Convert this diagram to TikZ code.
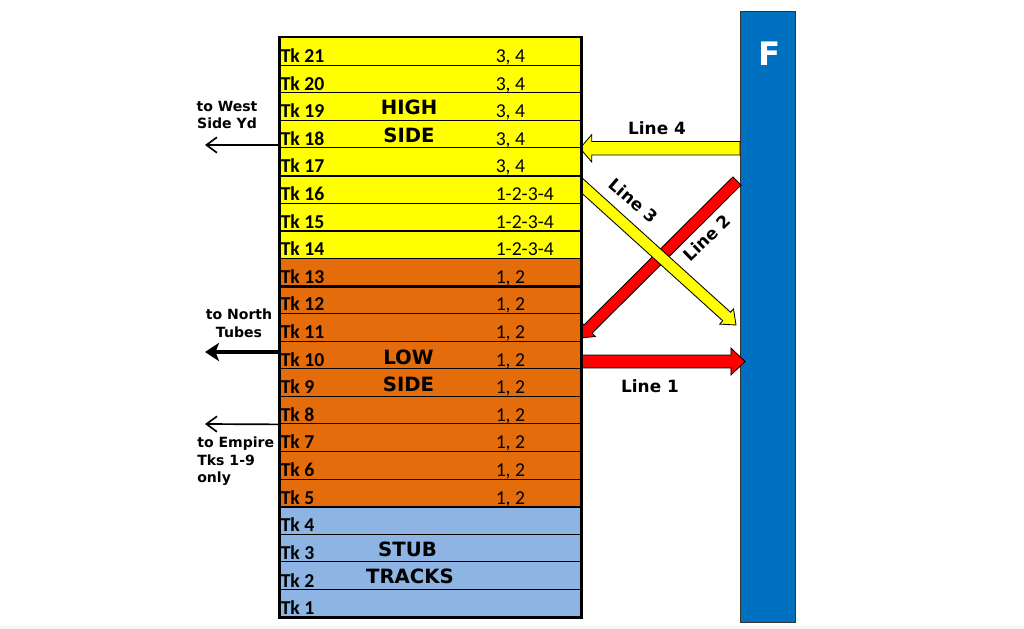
\documentclass[tikz,border=0pt]{standalone}
\usepackage{fontspec}
\usepackage[HTML]{xcolor}
\usepackage{tikz}
\usetikzlibrary{positioning, arrows.meta, calc}

\newfontfamily\trackfont{Carlito}
\newfontfamily\blockfont{DejaVu Sans}

\definecolor{hiyellow}{HTML}{FFFF00}
\definecolor{loworange}{HTML}{E46C0A}
\definecolor{stubblue}{HTML}{8DB4E2}
\definecolor{barblue}{HTML}{0070C0}
\definecolor{linered}{HTML}{FF0000}

% fat outlined arrow: fill, from, to, shaft half width, head half width, head length
\newcommand{\fatarrow}[6]{%
\coordinate (hb) at ($(#3)!#6!(#2)$);
\draw[fill=#1, line width=0.6pt, line join=miter]
  ($(#2)!#4!90:(#3)$) -- ($(hb)!#4!90:(#3)$) -- ($(hb)!#5!90:(#3)$) -- (#3)
  -- ($(hb)!#5!-90:(#3)$) -- ($(hb)!#4!-90:(#3)$) -- ($(#2)!#4!-90:(#3)$) -- cycle;}

\begin{document}
\begin{tikzpicture}[x=0.025cm, y=-0.025cm,
  trackrow/.style={draw, line width=0.7pt, inner sep=0, minimum width=7.525cm, minimum height=0.69cm},
  tklabel/.style={anchor=base west, inner sep=0, font=\trackfont\bfseries\fontsize{14}{16}\selectfont},
  linenum/.style={anchor=base west, inner sep=0, font=\trackfont\fontsize{14}{16}\selectfont},
  sidelabel/.style={inner sep=0, font=\blockfont\bfseries\fontsize{14}{16}\selectfont},
  linelabel/.style={inner sep=0, font=\blockfont\bfseries\fontsize{12}{14}\selectfont},
  leftlabel/.style={inner sep=0, font=\blockfont\bfseries\fontsize{10}{12.6}\selectfont},
  groupline/.style={line width=1.8pt},
  thinarrow/.style={line width=1.2pt, -{Straight Barb[length=7.5pt, width=11pt]}},
  thickarrow/.style={line width=3.4pt, -{Stealth[length=10pt, width=13pt, inset=2.5pt]}}]
\useasboundingbox (0,0) rectangle (1024,629);
\fill[gray!7] (0,626) rectangle (1024,629);

% the F bar
\node[draw=black!80, line width=0.6pt, fill=barblue, inner sep=0, minimum width=1.375cm, minimum height=15.265cm] (fbar) at (767.5,317) {};
\node[font=\blockfont\bfseries\fontsize{23}{26}\selectfont, text=white, inner sep=0] (flab) at (769.5,53.3) {F};

% big arrows
\coordinate (l4a) at (740,148.3);
\coordinate (l4b) at (580,148.3);
\coordinate (l1a) at (581,361.5);
\coordinate (l1b) at (745,361.5);
\coordinate (l3a) at (578,182);
\coordinate (l3b) at (736,325);
\coordinate (l2a) at (737,181);
\coordinate (l2b) at (579,338);
\fatarrow{hiyellow}{l4a}{l4b}{4.8pt}{9.7pt}{8.3pt}
\fatarrow{linered}{l1a}{l1b}{4.6pt}{9.6pt}{10pt}
\fatarrow{linered}{l2a}{l2b}{4.1pt}{7.5pt}{9pt}
\fatarrow{hiyellow}{l3a}{l3b}{4.1pt}{7.3pt}{9pt}

\node[linelabel] (l4lab) at (657,127.8) {Line 4};
\node[linelabel] (l1lab) at (650,386) {Line 1};
\node[linelabel, rotate=-41] (l3lab) at (633.5,200.5) {Line 3};
\node[linelabel, rotate=44] (l2lab) at (707,237.5) {Line 2};

% tracks
\foreach \k in {1,...,21} {
  \pgfmathsetmacro\ry{37.5+(21-\k)*27.6+13.8}
  \ifnum\k>13 \def\rc{hiyellow}\else\ifnum\k>4 \def\rc{loworange}\else\def\rc{stubblue}\fi\fi
  \node[trackrow, fill=\rc] (tk\k) at (430.5,\ry) {};
  \node[tklabel] (tkl\k) at ($(tk\k.south west)+(1,-3)$) {Tk \k};
  \ifnum\k>16 \def\ln{3, 4}\else\ifnum\k>13 \def\ln{1-2-3-4}\else\ifnum\k>4 \def\ln{1, 2}\else\def\ln{}\fi\fi\fi
  \node[linenum] (tkn\k) at ($(tk\k.south west)+(216,-3)$) {\ln};
}
\draw[groupline] (tk21.north west) rectangle (tk1.south east);
\foreach \k in {17,15,13,5}
  \draw[groupline] (tk\k.south west) -- (tk\k.south east);

\node[sidelabel] (high) at ($(tk19)+(-21.5,1)$) {HIGH};
\node[sidelabel] (highside) at ($(tk18)+(-21.5,1)$) {SIDE};
\node[sidelabel] (low) at ($(tk10)+(-22,2)$) {LOW};
\node[sidelabel] (lowside) at ($(tk9)+(-22,2)$) {SIDE};
\node[sidelabel] (stub) at ($(tk3)+(-23,1)$) {STUB};
\node[sidelabel] (stubtracks) at ($(tk2)+(-20.5,1)$) {TRACKS};

% exits to the left
\coordinate (westend) at (205,145);
\coordinate (northend) at (205,352);
\coordinate (empireend) at (205,424);
\draw[thinarrow] (tk18.west |- westend) -- (westend);
\draw[thickarrow] (tk10.west |- northend) -- (northend);
\draw[thinarrow] (tk8.south west) -- (empireend);

\node[leftlabel, align=center] (westlab) at (227,115) {to West\\Side Yd};
\node[leftlabel, align=center] (northlab) at (239,323) {to North\\Tubes};
\node[leftlabel, align=left, anchor=north west] (empirelab) at (197,436.5) {to Empire\\Tks 1-9\\only};
\end{tikzpicture}
\end{document}
